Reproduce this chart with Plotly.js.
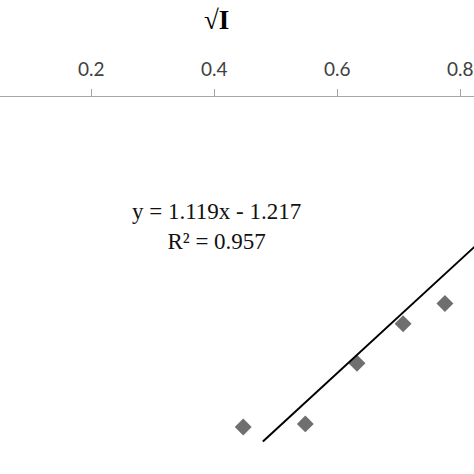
<!DOCTYPE html>
<html>
<head>
<meta charset="utf-8">
<script src="https://cdn.plot.ly/plotly-3.0.1.min.js"></script>
<style>html,body{margin:0;padding:0;background:#fff;}#chart{width:474px;height:474px;}</style>
</head>
<body>
<div id="chart"></div>
<script>
// Data
const sqrtI = [0.447, 0.548, 0.632, 0.707, 0.775];
const yValues = [-0.652, -0.646, -0.526, -0.448, -0.408];
const trendX = [0.479, 0.900];
const trendY = [-0.681, -0.210];
const tickVals = [0.2, 0.4, 0.6, 0.8];
const tickText = ['0.2', '0.4', '0.6', '0.8'];
const equationText = 'y = 1.119x - 1.217<br>R² = 0.957';
const titleText = '<b>√I</b>';

const traces = [
  {
    x: sqrtI, y: yValues, type: 'scatter', mode: 'markers',
    marker: {symbol: 'diamond', size: 13, color: '#6f6f6f'},
    cliponaxis: true, hoverinfo: 'skip'
  },
  {
    x: trendX, y: trendY, type: 'scatter', mode: 'lines',
    line: {color: '#000000', width: 2}, hoverinfo: 'skip'
  }
];

const layout = {
  width: 474, height: 474,
  margin: {l: 0, r: 0, t: 97, b: 0, pad: 0},
  paper_bgcolor: '#ffffff', plot_bgcolor: '#ffffff',
  showlegend: false,
  title: {
    text: titleText,
    font: {family: 'Liberation Serif', size: 27, color: '#000000'},
    x: 0.457, xanchor: 'center', y: 0.958, yanchor: 'middle'
  },
  xaxis: {
    side: 'top', range: [0.0515, 0.8223],
    tickvals: tickVals, ticktext: tickText,
    showline: true, linecolor: '#a6a6a6', linewidth: 1.3,
    ticks: 'outside', ticklen: 7, tickcolor: '#a6a6a6', tickwidth: 1.3,
    ticklabelstandoff: 5,
    tickfont: {family: 'Lato', size: 19, color: '#404040'},
    showgrid: false, zeroline: false
  },
  yaxis: {
    range: [-0.745, 0], visible: false, showgrid: false, zeroline: false
  },
  annotations: [{
    text: equationText, xref: 'x', yref: 'y',
    x: 0.4035, y: -0.256, xanchor: 'center', yanchor: 'middle',
    showarrow: false, align: 'center',
    font: {family: 'Liberation Serif', size: 23, color: '#111111'}
  }]
};

Plotly.newPlot('chart', traces, layout, {displayModeBar: false, staticPlot: true});
</script>
</body>
</html>
